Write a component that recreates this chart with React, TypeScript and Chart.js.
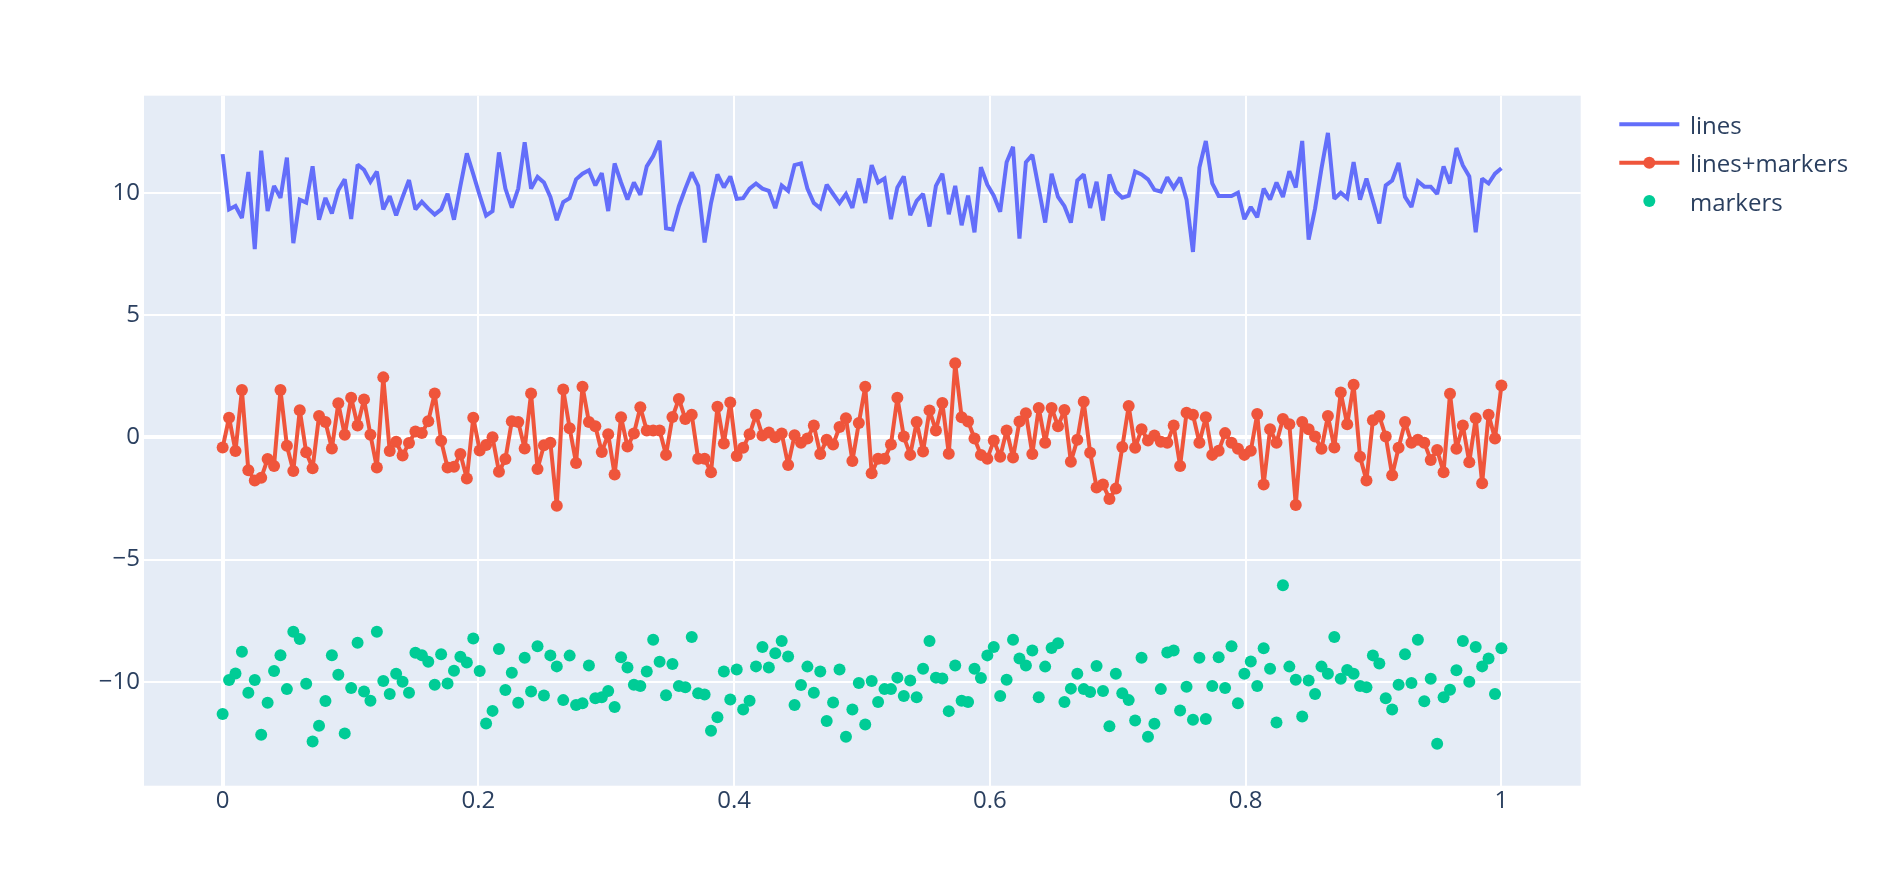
import React, { useEffect, useRef } from "react";
import { Chart, registerables } from "chart.js";

Chart.register(...registerables);

const seriesNames = ["lines", "lines+markers", "markers"];
const seriesColors = ["#636efa", "#EF553B", "#00cc96"];

const linesY = [
  11.58, 9.32, 9.46, 8.97, 10.85, 7.7, 11.72, 9.25, 10.28, 9.79,
  11.44, 7.94, 9.72, 9.6, 11.08, 8.9, 9.79, 9.15, 10.1, 10.55,
  8.93, 11.15, 10.94, 10.45, 10.87, 9.32, 9.86, 9.08, 9.82, 10.52,
  9.32, 9.63, 9.35, 9.11, 9.32, 9.96, 8.9, 10.28, 11.61, 10.76,
  9.89, 9.07, 9.25, 11.65, 10.17, 9.39, 10.17, 12.07, 10.17, 10.65,
  10.42, 9.83, 8.88, 9.62, 9.78, 10.55, 10.78, 10.92, 10.3, 10.8,
  9.25, 11.2, 10.42, 9.72, 10.42, 9.92, 11.08, 11.5, 12.13, 8.55,
  8.5, 9.45, 10.17, 10.83, 10.28, 7.97, 9.58, 10.75, 10.22, 10.67,
  9.75, 9.78, 10.17, 10.38, 10.17, 10.08, 9.37, 10.3, 10.08, 11.13,
  11.2, 10.17, 9.58, 9.37, 10.33, 9.95, 9.58, 9.95, 9.38, 10.58,
  9.58, 11.13, 10.42, 10.58, 8.92, 10.22, 10.67, 9.08, 9.67, 9.95,
  8.62, 10.28, 10.78, 9.12, 10.28, 8.67, 9.88, 8.38, 11.05, 10.33,
  9.88, 9.22, 11.25, 11.88, 8.13, 11.25, 11.55, 10.17, 8.78, 10.78,
  9.83, 9.45, 8.78, 10.5, 10.75, 9.38, 10.45, 8.87, 10.75, 10.05,
  9.8, 9.88, 10.87, 10.75, 10.55, 10.12, 10.05, 10.63, 10.2, 10.62,
  9.72, 7.58, 11.03, 12.12, 10.38, 9.87, 9.87, 9.87, 10.0, 8.92,
  9.42, 9.0, 10.17, 9.72, 10.42, 9.83, 10.88, 10.22, 12.12, 8.08,
  9.35, 11.0, 12.45, 9.75, 10.0, 9.78, 11.25, 9.72, 10.58, 9.67,
  8.75, 10.3, 10.5, 11.22, 9.83, 9.42, 10.47, 10.25, 10.25, 9.95,
  11.08, 10.38, 11.83, 11.12, 10.67, 8.38, 10.58, 10.38, 10.78, 11.0,
];

const linesMarkersY = [
  -0.42, 0.8, -0.56, 1.93, -1.35, -1.77, -1.66, -0.89, -1.17, 1.93,
  -0.35, -1.38, 1.11, -0.61, -1.27, 0.87, 0.62, -0.46, 1.39, 0.1,
  1.62, 0.48, 1.55, 0.1, -1.24, 2.45, -0.56, -0.18, -0.75, -0.23,
  0.24, 0.17, 0.66, 1.79, -0.14, -1.24, -1.21, -0.68, -1.69, 0.8,
  -0.54, -0.32, 0.0, -1.41, -0.89, 0.66, 0.62, -0.46, 1.79, -1.3,
  -0.33, -0.22, -2.8, 1.95, 0.37, -1.05, 2.07, 0.62, 0.45, -0.6,
  0.12, -1.52, 0.82, -0.38, 0.15, 1.23, 0.28, 0.28, 0.28, -0.72,
  0.83, 1.57, 0.75, 0.92, -0.88, -0.88, -1.43, 1.25, -0.25, 1.42,
  -0.77, -0.43, 0.12, 0.92, 0.07, 0.2, 0.0, 0.15, -1.13, 0.08,
  -0.22, -0.05, 0.48, -0.68, -0.1, -0.3, 0.42, 0.78, -0.97, 0.58,
  2.07, -1.47, -0.88, -0.88, -0.3, 1.62, 0.03, -0.72, 0.62, -0.58,
  1.1, 0.28, 1.4, -0.67, 3.03, 0.82, 0.65, -0.05, -0.72, -0.88,
  -0.13, -0.8, 0.28, -0.83, 0.65, 0.98, -0.68, 1.2, -0.22, 1.2,
  0.45, 1.12, -1.0, -0.1, 1.45, -0.63, -2.05, -1.93, -2.52, -2.1,
  -0.4, 1.28, -0.43, 0.33, -0.13, 0.07, -0.18, -0.22, 0.48, -1.17,
  1.0, 0.92, -0.22, 0.82, -0.72, -0.55, 0.17, -0.22, -0.47, -0.72,
  -0.55, 0.95, -1.93, 0.33, -0.22, 0.75, 0.53, -2.77, 0.62, 0.33,
  0.03, -0.47, 0.87, -0.42, 1.83, 0.53, 2.15, -0.8, -1.77, 0.7,
  0.87, 0.03, -1.55, -0.43, 0.62, -0.22, -0.1, -0.22, -0.93, -0.52,
  -1.43, 1.78, -0.47, 0.48, -1.02, 0.78, -1.88, 0.92, -0.05, 2.12,
];

const markersY = [
  -11.32, -9.93, -9.66, -8.77, -10.45, -9.93, -12.17, -10.86, -9.56, -8.91,
  -10.3, -7.95, -8.25, -10.08, -12.44, -11.8, -10.79, -8.91, -9.71, -12.11,
  -10.25, -8.4, -10.4, -10.78, -7.95, -9.97, -10.5, -9.67, -10.0, -10.45,
  -8.81, -8.91, -9.18, -10.12, -8.87, -10.07, -9.55, -8.98, -9.21, -8.23,
  -9.56, -11.71, -11.19, -8.66, -10.34, -9.63, -10.86, -9.02, -10.4, -8.55,
  -10.56, -8.92, -9.37, -10.75, -8.93, -10.95, -10.88, -9.33, -10.67, -10.63,
  -10.38, -11.03, -9.0, -9.42, -10.12, -10.17, -9.58, -8.28, -9.18, -10.55,
  -9.27, -10.17, -10.22, -8.17, -10.47, -10.52, -12.0, -11.45, -9.58, -10.72,
  -9.5, -11.13, -10.78, -9.37, -8.58, -9.42, -8.83, -8.33, -8.97, -10.95,
  -10.13, -9.38, -10.45, -9.58, -11.6, -10.85, -9.5, -12.25, -11.13, -10.05,
  -11.75, -9.97, -10.83, -10.3, -10.3, -9.83, -10.58, -9.95, -10.63, -9.47,
  -8.33, -9.83, -9.87, -11.2, -9.33, -10.78, -10.83, -9.47, -9.85, -8.92,
  -8.58, -10.58, -9.92, -8.28, -9.05, -9.33, -8.72, -10.63, -9.38, -8.62,
  -8.42, -10.83, -10.28, -9.67, -10.3, -10.42, -9.35, -10.38, -11.82, -9.67,
  -10.47, -10.75, -11.58, -9.02, -12.25, -11.72, -10.3, -8.8, -8.72, -11.17,
  -10.2, -11.55, -9.02, -11.52, -10.17, -9.0, -10.25, -8.55, -10.88, -9.67,
  -9.17, -10.17, -8.63, -9.47, -11.67, -6.05, -9.38, -9.92, -11.42, -9.95,
  -10.5, -9.38, -9.67, -8.17, -9.88, -9.52, -9.67, -10.17, -10.22, -8.92,
  -9.25, -10.67, -11.13, -10.12, -8.87, -10.05, -8.28, -10.8, -9.88, -12.53,
  -10.63, -10.33, -9.53, -8.33, -10.0, -8.58, -9.37, -9.05, -10.5, -8.63,
];

const xTickValues = [0, 0.2, 0.4, 0.6, 0.8, 1];
const xTickLabels = ["0", "0.2", "0.4", "0.6", "0.8", "1"];
const yTickValues = [-10, -5, 0, 5, 10];
const yTickLabels = ["\u221210", "\u22125", "0", "5", "10"];

const W = 1896;
const H = 884;
const FONT = '"Open Sans", "DejaVu Sans", sans-serif';
const TEXT_COLOR = "#2a3f5f";

const toPoints = (ys: number[]) =>
  ys.map((y, i) => ({ x: i / (ys.length - 1), y }));

const bgPlugin = {
  id: "plotBg",
  beforeDraw(chart: any) {
    const { ctx, chartArea } = chart;
    ctx.save();
    ctx.fillStyle = "#ffffff";
    ctx.fillRect(0, 0, chart.width, chart.height);
    ctx.fillStyle = "#E5ECF6";
    ctx.fillRect(
      chartArea.left,
      chartArea.top,
      chartArea.right - chartArea.left,
      chartArea.bottom - chartArea.top
    );
    ctx.restore();
  },
};

const miterPlugin = {
  id: "miterLimit",
  beforeDatasetsDraw(chart: any) {
    chart.ctx.save();
    chart.ctx.miterLimit = 2;
  },
  afterDatasetsDraw(chart: any) {
    chart.ctx.restore();
  },
};

const legendPlugin = {
  id: "customLegend",
  afterDraw(chart: any) {
    const { ctx } = chart;
    const x0 = 1619.3;
    const x1 = 1679.3;
    const textX = 1690;
    const y0 = 124.3;
    const dy = 38.35;
    ctx.save();
    chart.data.datasets.forEach((ds: any, i: number) => {
      const y = y0 + i * dy;
      const mode = ds._mode as string;
      if (mode.includes("lines")) {
        ctx.strokeStyle = ds.borderColor;
        ctx.lineWidth = 4;
        ctx.beginPath();
        ctx.moveTo(x0, y);
        ctx.lineTo(x1, y);
        ctx.stroke();
      }
      if (mode.includes("markers")) {
        ctx.fillStyle = ds.pointBackgroundColor;
        ctx.beginPath();
        ctx.arc((x0 + x1) / 2, y, 6, 0, Math.PI * 2);
        ctx.fill();
      }
      ctx.fillStyle = TEXT_COLOR;
      ctx.font = `24px ${FONT}`;
      ctx.textAlign = "left";
      ctx.textBaseline = "alphabetic";
      ctx.fillText(ds.label, textX, y + 9.5);
    });
    ctx.restore();
  },
};

export default function App() {
  const canvasRef = useRef<HTMLCanvasElement | null>(null);

  useEffect(() => {
    const canvas = canvasRef.current;
    if (!canvas) return;
    const gridWidth = (c: any) => (c.tick && c.tick.value === 0 ? 4 : 2);
    const chart = new Chart(canvas, {
      type: "scatter",
      data: {
        datasets: [
          {
            label: seriesNames[0],
            _mode: "lines",
            data: toPoints(linesY),
            showLine: true,
            borderColor: seriesColors[0],
            backgroundColor: seriesColors[0],
            pointBackgroundColor: seriesColors[0],
            borderWidth: 4,
            borderJoinStyle: "miter",
            pointRadius: 0,
            pointHoverRadius: 0,
            tension: 0,
            order: 3,
          } as any,
          {
            label: seriesNames[1],
            _mode: "lines+markers",
            data: toPoints(linesMarkersY),
            showLine: true,
            borderColor: seriesColors[1],
            backgroundColor: seriesColors[1],
            pointBackgroundColor: seriesColors[1],
            borderWidth: 4,
            borderJoinStyle: "miter",
            pointRadius: 6,
            pointBorderWidth: 0,
            pointHoverRadius: 6,
            tension: 0,
            order: 2,
          } as any,
          {
            label: seriesNames[2],
            _mode: "markers",
            data: toPoints(markersY),
            showLine: false,
            borderColor: seriesColors[2],
            backgroundColor: seriesColors[2],
            pointBackgroundColor: seriesColors[2],
            pointRadius: 6,
            pointBorderWidth: 0,
            pointHoverRadius: 6,
            order: 1,
          } as any,
        ],
      },
      options: {
        responsive: false,
        devicePixelRatio: 1,
        animation: false,
        events: [],
        layout: {
          padding: { left: 0, top: 95.7, right: W - 1580.7, bottom: 0 },
        },
        plugins: {
          legend: { display: false },
          tooltip: { enabled: false },
        },
        scales: {
          x: {
            type: "linear",
            min: -0.0615,
            max: 1.062,
            afterBuildTicks: (s: any) => {
              s.ticks = xTickValues.map((v) => ({ value: v }));
            },
            afterFit: (s: any) => {
              s.height = H - 785.7;
            },
            ticks: {
              autoSkip: false,
              maxRotation: 0,
              minRotation: 0,
              padding: 1,
              color: TEXT_COLOR,
              font: { family: FONT, size: 24 },
              callback: (v: any) => xTickLabels[xTickValues.indexOf(Number(v))] ?? "",
            },
            grid: { color: "#ffffff", lineWidth: gridWidth, drawTicks: false },
            border: { display: false },
          },
          y: {
            type: "linear",
            min: -14.25,
            max: 13.97,
            afterBuildTicks: (s: any) => {
              s.ticks = yTickValues.map((v) => ({ value: v }));
            },
            afterFit: (s: any) => {
              s.width = 144;
            },
            ticks: {
              autoSkip: false,
              padding: 4,
              color: TEXT_COLOR,
              font: { family: FONT, size: 24 },
              callback: (v: any) => yTickLabels[yTickValues.indexOf(Number(v))] ?? "",
            },
            grid: { color: "#ffffff", lineWidth: gridWidth, drawTicks: false },
            border: { display: false },
          },
        },
      },
      plugins: [bgPlugin, miterPlugin, legendPlugin],
    } as any);
    return () => chart.destroy();
  }, []);

  return (
    <div
      style={{
        position: "absolute",
        left: 0,
        top: 0,
        width: W,
        height: H,
        background: "#ffffff",
      }}
    >
      <canvas ref={canvasRef} width={W} height={H} style={{ width: W, height: H, display: "block" }} />
    </div>
  );
}
